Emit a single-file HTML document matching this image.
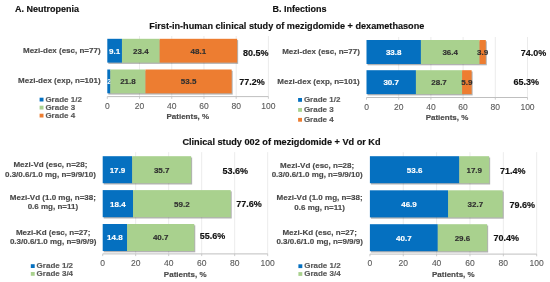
<!DOCTYPE html>
<html><head><meta charset="utf-8"><style>
html,body{margin:0;padding:0;background:#fff;}
body{width:550px;height:282px;overflow:hidden;}
svg{display:block;filter:blur(0.35px);font-family:"Liberation Sans", sans-serif;}
</style></head><body>
<svg width="550" height="282" viewBox="0 0 550 282">
<defs><filter id="blur" x="-5%" y="-30%" width="110%" height="160%"><feGaussianBlur stdDeviation="0.6"/></filter></defs>
<rect width="550" height="282" fill="#fff"/>
<text x="15.00" y="12.00" font-size="9" font-weight="bold" fill="#111" text-anchor="start" stroke="#111" stroke-width="0.15" >A. Neutropenia</text>
<text x="272.50" y="11.80" font-size="9" font-weight="bold" fill="#111" text-anchor="start" stroke="#111" stroke-width="0.15" >B. Infections</text>
<text x="149.20" y="28.70" font-size="9.12" font-weight="bold" fill="#111" text-anchor="start" stroke="#111" stroke-width="0.15" >First-in-human clinical study of mezigdomide + dexamethasone</text>
<text x="182.40" y="145.00" font-size="9.16" font-weight="bold" fill="#111" text-anchor="start" stroke="#111" stroke-width="0.15" >Clinical study 002 of mezigdomide + Vd or Kd</text>
<line x1="139.52" y1="36.00" x2="139.52" y2="96.60" stroke="#E6E6E6" stroke-width="0.8"/>
<line x1="171.74" y1="36.00" x2="171.74" y2="96.60" stroke="#E6E6E6" stroke-width="0.8"/>
<line x1="203.96" y1="36.00" x2="203.96" y2="96.60" stroke="#E6E6E6" stroke-width="0.8"/>
<line x1="236.18" y1="36.00" x2="236.18" y2="96.60" stroke="#E6E6E6" stroke-width="0.8"/>
<line x1="268.40" y1="36.00" x2="268.40" y2="96.60" stroke="#E6E6E6" stroke-width="0.8"/>
<rect x="108.30" y="40.10" width="129.85" height="23.80" fill="rgba(0,0,0,0.3)" filter="url(#blur)"/>
<rect x="107.30" y="38.80" width="14.66" height="23.80" fill="#0570C0" />
<rect x="121.96" y="38.80" width="37.70" height="23.80" fill="#A9D18E" />
<rect x="159.66" y="38.80" width="77.49" height="23.80" fill="#ED7D31" />
<text x="114.63" y="53.60" font-size="8" font-weight="bold" fill="#fff" text-anchor="middle" stroke="#fff" stroke-width="0.15" >9.1</text>
<text x="140.81" y="53.60" font-size="8" font-weight="bold" fill="#303030" text-anchor="middle" stroke="#303030" stroke-width="0.15" >23.4</text>
<text x="198.40" y="53.60" font-size="8" font-weight="bold" fill="#303030" text-anchor="middle" stroke="#303030" stroke-width="0.15" >48.1</text>
<rect x="108.30" y="70.80" width="124.37" height="23.80" fill="rgba(0,0,0,0.3)" filter="url(#blur)"/>
<rect x="107.30" y="69.50" width="3.06" height="23.80" fill="#0570C0" />
<rect x="110.36" y="69.50" width="35.12" height="23.80" fill="#A9D18E" />
<rect x="145.48" y="69.50" width="86.19" height="23.80" fill="#ED7D31" />
<text x="127.92" y="84.30" font-size="8" font-weight="bold" fill="#303030" text-anchor="middle" stroke="#303030" stroke-width="0.15" >21.8</text>
<text x="188.57" y="84.30" font-size="8" font-weight="bold" fill="#303030" text-anchor="middle" stroke="#303030" stroke-width="0.15" >53.5</text>
<line x1="107.30" y1="96.60" x2="268.40" y2="96.60" stroke="#BFBFBF" stroke-width="1"/>
<line x1="107.30" y1="96.60" x2="107.30" y2="98.80" stroke="#BFBFBF" stroke-width="0.8"/>
<text x="107.30" y="108.50" font-size="8.5" font-weight="normal" fill="#595959" text-anchor="middle" stroke="#595959" stroke-width="0.1" >0</text>
<line x1="139.52" y1="96.60" x2="139.52" y2="98.80" stroke="#BFBFBF" stroke-width="0.8"/>
<text x="139.52" y="108.50" font-size="8.5" font-weight="normal" fill="#595959" text-anchor="middle" stroke="#595959" stroke-width="0.1" >20</text>
<line x1="171.74" y1="96.60" x2="171.74" y2="98.80" stroke="#BFBFBF" stroke-width="0.8"/>
<text x="171.74" y="108.50" font-size="8.5" font-weight="normal" fill="#595959" text-anchor="middle" stroke="#595959" stroke-width="0.1" >40</text>
<line x1="203.96" y1="96.60" x2="203.96" y2="98.80" stroke="#BFBFBF" stroke-width="0.8"/>
<text x="203.96" y="108.50" font-size="8.5" font-weight="normal" fill="#595959" text-anchor="middle" stroke="#595959" stroke-width="0.1" >60</text>
<line x1="236.18" y1="96.60" x2="236.18" y2="98.80" stroke="#BFBFBF" stroke-width="0.8"/>
<text x="236.18" y="108.50" font-size="8.5" font-weight="normal" fill="#595959" text-anchor="middle" stroke="#595959" stroke-width="0.1" >80</text>
<line x1="268.40" y1="96.60" x2="268.40" y2="98.80" stroke="#BFBFBF" stroke-width="0.8"/>
<text x="268.40" y="108.50" font-size="8.5" font-weight="normal" fill="#595959" text-anchor="middle" stroke="#595959" stroke-width="0.1" >100</text>
<text x="187.85" y="118.90" font-size="8" font-weight="bold" fill="#4A4A4A" text-anchor="middle" stroke="#4A4A4A" stroke-width="0.15" >Patients, %</text>
<text x="243.00" y="56.00" font-size="9" font-weight="bold" fill="#111" text-anchor="start" stroke="#111" stroke-width="0.15" >80.5%</text>
<text x="239.20" y="84.80" font-size="9" font-weight="bold" fill="#111" text-anchor="start" stroke="#111" stroke-width="0.15" >77.2%</text>
<text x="100.60" y="53.40" font-size="8" font-weight="bold" fill="#4A4A4A" text-anchor="end" stroke="#4A4A4A" stroke-width="0.15" >Mezi-dex (esc, n=77)</text>
<text x="100.60" y="83.40" font-size="8" font-weight="bold" fill="#4A4A4A" text-anchor="end" stroke="#4A4A4A" stroke-width="0.15" >Mezi-dex (exp, n=101)</text>
<rect x="39.60" y="97.70" width="3.90" height="3.80" fill="#0570C0" />
<text x="45.40" y="101.50" font-size="8" font-weight="bold" fill="#595959" text-anchor="start" stroke="#595959" stroke-width="0.15" >Grade 1/2</text>
<rect x="39.60" y="105.70" width="3.90" height="3.80" fill="#A9D18E" />
<text x="45.40" y="109.50" font-size="8" font-weight="bold" fill="#595959" text-anchor="start" stroke="#595959" stroke-width="0.15" >Grade 3</text>
<rect x="39.60" y="113.70" width="3.90" height="3.80" fill="#ED7D31" />
<text x="45.40" y="117.50" font-size="8" font-weight="bold" fill="#595959" text-anchor="start" stroke="#595959" stroke-width="0.15" >Grade 4</text>
<clipPath id="c19"><rect x="107.3" y="69.5" width="3.06" height="23.8"/></clipPath>
<text x="109.2" y="83.9" font-size="7.5" font-weight="bold" fill="#fff" text-anchor="middle" clip-path="url(#c19)">2</text>
<line x1="398.70" y1="37.00" x2="398.70" y2="97.50" stroke="#E6E6E6" stroke-width="0.8"/>
<line x1="430.90" y1="37.00" x2="430.90" y2="97.50" stroke="#E6E6E6" stroke-width="0.8"/>
<line x1="463.10" y1="37.00" x2="463.10" y2="97.50" stroke="#E6E6E6" stroke-width="0.8"/>
<line x1="495.30" y1="37.00" x2="495.30" y2="97.50" stroke="#E6E6E6" stroke-width="0.8"/>
<line x1="527.50" y1="37.00" x2="527.50" y2="97.50" stroke="#E6E6E6" stroke-width="0.8"/>
<rect x="367.50" y="41.30" width="119.30" height="24.00" fill="rgba(0,0,0,0.3)" filter="url(#blur)"/>
<rect x="366.50" y="40.00" width="54.42" height="24.00" fill="#0570C0" />
<rect x="420.92" y="40.00" width="58.60" height="24.00" fill="#A9D18E" />
<rect x="479.52" y="40.00" width="6.28" height="24.00" fill="#ED7D31" />
<text x="393.71" y="54.90" font-size="8" font-weight="bold" fill="#fff" text-anchor="middle" stroke="#fff" stroke-width="0.15" >33.8</text>
<text x="450.22" y="54.90" font-size="8" font-weight="bold" fill="#303030" text-anchor="middle" stroke="#303030" stroke-width="0.15" >36.4</text>
<text x="482.66" y="54.90" font-size="8" font-weight="bold" fill="#303030" text-anchor="middle" stroke="#303030" stroke-width="0.15" >3.9</text>
<rect x="367.50" y="71.50" width="105.13" height="23.90" fill="rgba(0,0,0,0.3)" filter="url(#blur)"/>
<rect x="366.50" y="70.20" width="49.43" height="23.90" fill="#0570C0" />
<rect x="415.93" y="70.20" width="46.21" height="23.90" fill="#A9D18E" />
<rect x="462.13" y="70.20" width="9.50" height="23.90" fill="#ED7D31" />
<text x="391.21" y="85.05" font-size="8" font-weight="bold" fill="#fff" text-anchor="middle" stroke="#fff" stroke-width="0.15" >30.7</text>
<text x="439.03" y="85.05" font-size="8" font-weight="bold" fill="#303030" text-anchor="middle" stroke="#303030" stroke-width="0.15" >28.7</text>
<text x="466.88" y="85.05" font-size="8" font-weight="bold" fill="#303030" text-anchor="middle" stroke="#303030" stroke-width="0.15" >5.9</text>
<line x1="366.50" y1="97.50" x2="527.50" y2="97.50" stroke="#BFBFBF" stroke-width="1"/>
<line x1="366.50" y1="97.50" x2="366.50" y2="99.70" stroke="#BFBFBF" stroke-width="0.8"/>
<text x="366.50" y="109.70" font-size="8.5" font-weight="normal" fill="#595959" text-anchor="middle" stroke="#595959" stroke-width="0.1" >0</text>
<line x1="398.70" y1="97.50" x2="398.70" y2="99.70" stroke="#BFBFBF" stroke-width="0.8"/>
<text x="398.70" y="109.70" font-size="8.5" font-weight="normal" fill="#595959" text-anchor="middle" stroke="#595959" stroke-width="0.1" >20</text>
<line x1="430.90" y1="97.50" x2="430.90" y2="99.70" stroke="#BFBFBF" stroke-width="0.8"/>
<text x="430.90" y="109.70" font-size="8.5" font-weight="normal" fill="#595959" text-anchor="middle" stroke="#595959" stroke-width="0.1" >40</text>
<line x1="463.10" y1="97.50" x2="463.10" y2="99.70" stroke="#BFBFBF" stroke-width="0.8"/>
<text x="463.10" y="109.70" font-size="8.5" font-weight="normal" fill="#595959" text-anchor="middle" stroke="#595959" stroke-width="0.1" >60</text>
<line x1="495.30" y1="97.50" x2="495.30" y2="99.70" stroke="#BFBFBF" stroke-width="0.8"/>
<text x="495.30" y="109.70" font-size="8.5" font-weight="normal" fill="#595959" text-anchor="middle" stroke="#595959" stroke-width="0.1" >80</text>
<line x1="527.50" y1="97.50" x2="527.50" y2="99.70" stroke="#BFBFBF" stroke-width="0.8"/>
<text x="527.50" y="109.70" font-size="8.5" font-weight="normal" fill="#595959" text-anchor="middle" stroke="#595959" stroke-width="0.1" >100</text>
<text x="447.00" y="120.20" font-size="8" font-weight="bold" fill="#4A4A4A" text-anchor="middle" stroke="#4A4A4A" stroke-width="0.15" >Patients, %</text>
<text x="520.80" y="56.00" font-size="9" font-weight="bold" fill="#111" text-anchor="start" stroke="#111" stroke-width="0.15" >74.0%</text>
<text x="513.50" y="85.20" font-size="9" font-weight="bold" fill="#111" text-anchor="start" stroke="#111" stroke-width="0.15" >65.3%</text>
<text x="359.80" y="53.70" font-size="8" font-weight="bold" fill="#4A4A4A" text-anchor="end" stroke="#4A4A4A" stroke-width="0.15" >Mezi-dex (esc, n=77)</text>
<text x="359.80" y="83.70" font-size="8" font-weight="bold" fill="#4A4A4A" text-anchor="end" stroke="#4A4A4A" stroke-width="0.15" >Mezi-dex (exp, n=101)</text>
<rect x="298.10" y="98.00" width="3.90" height="3.80" fill="#0570C0" />
<text x="303.90" y="101.80" font-size="8" font-weight="bold" fill="#595959" text-anchor="start" stroke="#595959" stroke-width="0.15" >Grade 1/2</text>
<rect x="298.10" y="108.00" width="3.90" height="3.80" fill="#A9D18E" />
<text x="303.90" y="111.80" font-size="8" font-weight="bold" fill="#595959" text-anchor="start" stroke="#595959" stroke-width="0.15" >Grade 3</text>
<rect x="298.10" y="117.90" width="3.90" height="3.80" fill="#ED7D31" />
<text x="303.90" y="121.70" font-size="8" font-weight="bold" fill="#595959" text-anchor="start" stroke="#595959" stroke-width="0.15" >Grade 4</text>
<line x1="135.70" y1="152.20" x2="135.70" y2="253.90" stroke="#E6E6E6" stroke-width="0.8"/>
<line x1="168.70" y1="152.20" x2="168.70" y2="253.90" stroke="#E6E6E6" stroke-width="0.8"/>
<line x1="201.70" y1="152.20" x2="201.70" y2="253.90" stroke="#E6E6E6" stroke-width="0.8"/>
<line x1="234.70" y1="152.20" x2="234.70" y2="253.90" stroke="#E6E6E6" stroke-width="0.8"/>
<line x1="267.70" y1="152.20" x2="267.70" y2="253.90" stroke="#E6E6E6" stroke-width="0.8"/>
<rect x="103.70" y="157.50" width="88.44" height="27.00" fill="rgba(0,0,0,0.3)" filter="url(#blur)"/>
<rect x="102.70" y="156.20" width="29.53" height="27.00" fill="#0570C0" />
<rect x="132.24" y="156.20" width="58.91" height="27.00" fill="#A9D18E" />
<text x="117.47" y="172.60" font-size="8" font-weight="bold" fill="#fff" text-anchor="middle" stroke="#fff" stroke-width="0.15" >17.9</text>
<text x="161.69" y="172.60" font-size="8" font-weight="bold" fill="#303030" text-anchor="middle" stroke="#303030" stroke-width="0.15" >35.7</text>
<rect x="103.70" y="191.40" width="128.04" height="27.10" fill="rgba(0,0,0,0.3)" filter="url(#blur)"/>
<rect x="102.70" y="190.10" width="30.36" height="27.10" fill="#0570C0" />
<rect x="133.06" y="190.10" width="97.68" height="27.10" fill="#A9D18E" />
<text x="117.88" y="206.55" font-size="8" font-weight="bold" fill="#fff" text-anchor="middle" stroke="#fff" stroke-width="0.15" >18.4</text>
<text x="181.90" y="206.55" font-size="8" font-weight="bold" fill="#303030" text-anchor="middle" stroke="#303030" stroke-width="0.15" >59.2</text>
<rect x="103.70" y="225.30" width="91.57" height="27.00" fill="rgba(0,0,0,0.3)" filter="url(#blur)"/>
<rect x="102.70" y="224.00" width="24.42" height="27.00" fill="#0570C0" />
<rect x="127.12" y="224.00" width="67.16" height="27.00" fill="#A9D18E" />
<text x="114.91" y="240.40" font-size="8" font-weight="bold" fill="#fff" text-anchor="middle" stroke="#fff" stroke-width="0.15" >14.8</text>
<text x="160.70" y="240.40" font-size="8" font-weight="bold" fill="#303030" text-anchor="middle" stroke="#303030" stroke-width="0.15" >40.7</text>
<line x1="102.70" y1="253.90" x2="267.70" y2="253.90" stroke="#BFBFBF" stroke-width="1"/>
<line x1="102.70" y1="253.90" x2="102.70" y2="256.10" stroke="#BFBFBF" stroke-width="0.8"/>
<text x="102.70" y="266.10" font-size="8.5" font-weight="normal" fill="#595959" text-anchor="middle" stroke="#595959" stroke-width="0.1" >0</text>
<line x1="135.70" y1="253.90" x2="135.70" y2="256.10" stroke="#BFBFBF" stroke-width="0.8"/>
<text x="135.70" y="266.10" font-size="8.5" font-weight="normal" fill="#595959" text-anchor="middle" stroke="#595959" stroke-width="0.1" >20</text>
<line x1="168.70" y1="253.90" x2="168.70" y2="256.10" stroke="#BFBFBF" stroke-width="0.8"/>
<text x="168.70" y="266.10" font-size="8.5" font-weight="normal" fill="#595959" text-anchor="middle" stroke="#595959" stroke-width="0.1" >40</text>
<line x1="201.70" y1="253.90" x2="201.70" y2="256.10" stroke="#BFBFBF" stroke-width="0.8"/>
<text x="201.70" y="266.10" font-size="8.5" font-weight="normal" fill="#595959" text-anchor="middle" stroke="#595959" stroke-width="0.1" >60</text>
<line x1="234.70" y1="253.90" x2="234.70" y2="256.10" stroke="#BFBFBF" stroke-width="0.8"/>
<text x="234.70" y="266.10" font-size="8.5" font-weight="normal" fill="#595959" text-anchor="middle" stroke="#595959" stroke-width="0.1" >80</text>
<line x1="267.70" y1="253.90" x2="267.70" y2="256.10" stroke="#BFBFBF" stroke-width="0.8"/>
<text x="267.70" y="266.10" font-size="8.5" font-weight="normal" fill="#595959" text-anchor="middle" stroke="#595959" stroke-width="0.1" >100</text>
<text x="185.20" y="276.80" font-size="8" font-weight="bold" fill="#4A4A4A" text-anchor="middle" stroke="#4A4A4A" stroke-width="0.15" >Patients, %</text>
<text x="222.60" y="174.00" font-size="9" font-weight="bold" fill="#111" text-anchor="start" stroke="#111" stroke-width="0.15" >53.6%</text>
<text x="236.20" y="207.40" font-size="9" font-weight="bold" fill="#111" text-anchor="start" stroke="#111" stroke-width="0.15" >77.6%</text>
<text x="199.70" y="239.10" font-size="9" font-weight="bold" fill="#111" text-anchor="start" stroke="#111" stroke-width="0.15" >55.6%</text>
<text x="50.43" y="167.40" font-size="8" font-weight="bold" fill="#4A4A4A" text-anchor="middle" stroke="#4A4A4A" stroke-width="0.15" >Mezi-Vd (esc, n=28;</text>
<text x="50.43" y="176.80" font-size="8" font-weight="bold" fill="#4A4A4A" text-anchor="middle" stroke="#4A4A4A" stroke-width="0.15" >0.3/0.6/1.0 mg, n=9/9/10)</text>
<text x="52.89" y="199.60" font-size="8" font-weight="bold" fill="#4A4A4A" text-anchor="middle" stroke="#4A4A4A" stroke-width="0.15" >Mezi-Vd (1.0 mg, n=38;</text>
<text x="52.89" y="209.40" font-size="8" font-weight="bold" fill="#4A4A4A" text-anchor="middle" stroke="#4A4A4A" stroke-width="0.15" >0.6 mg, n=11)</text>
<text x="53.16" y="234.50" font-size="8" font-weight="bold" fill="#4A4A4A" text-anchor="middle" stroke="#4A4A4A" stroke-width="0.15" >Mezi-Kd (esc, n=27;</text>
<text x="53.16" y="244.00" font-size="8" font-weight="bold" fill="#4A4A4A" text-anchor="middle" stroke="#4A4A4A" stroke-width="0.15" >0.3/0.6/1.0 mg, n=9/9/9)</text>
<rect x="30.80" y="264.20" width="3.90" height="3.80" fill="#0570C0" />
<text x="36.60" y="268.00" font-size="8" font-weight="bold" fill="#595959" text-anchor="start" stroke="#595959" stroke-width="0.15" >Grade 1/2</text>
<rect x="30.80" y="272.00" width="3.90" height="3.80" fill="#A9D18E" />
<text x="36.60" y="275.80" font-size="8" font-weight="bold" fill="#595959" text-anchor="start" stroke="#595959" stroke-width="0.15" >Grade 3/4</text>
<line x1="403.26" y1="152.20" x2="403.26" y2="254.10" stroke="#E6E6E6" stroke-width="0.8"/>
<line x1="436.62" y1="152.20" x2="436.62" y2="254.10" stroke="#E6E6E6" stroke-width="0.8"/>
<line x1="469.98" y1="152.20" x2="469.98" y2="254.10" stroke="#E6E6E6" stroke-width="0.8"/>
<line x1="503.34" y1="152.20" x2="503.34" y2="254.10" stroke="#E6E6E6" stroke-width="0.8"/>
<line x1="536.70" y1="152.20" x2="536.70" y2="254.10" stroke="#E6E6E6" stroke-width="0.8"/>
<rect x="370.90" y="157.50" width="119.26" height="27.00" fill="rgba(0,0,0,0.3)" filter="url(#blur)"/>
<rect x="369.90" y="156.20" width="89.40" height="27.00" fill="#0570C0" />
<rect x="459.30" y="156.20" width="29.86" height="27.00" fill="#A9D18E" />
<text x="414.60" y="172.60" font-size="8" font-weight="bold" fill="#fff" text-anchor="middle" stroke="#fff" stroke-width="0.15" >53.6</text>
<text x="474.23" y="172.60" font-size="8" font-weight="bold" fill="#303030" text-anchor="middle" stroke="#303030" stroke-width="0.15" >17.9</text>
<rect x="370.90" y="191.60" width="132.77" height="27.10" fill="rgba(0,0,0,0.3)" filter="url(#blur)"/>
<rect x="369.90" y="190.30" width="78.23" height="27.10" fill="#0570C0" />
<rect x="448.13" y="190.30" width="54.54" height="27.10" fill="#A9D18E" />
<text x="409.01" y="206.75" font-size="8" font-weight="bold" fill="#fff" text-anchor="middle" stroke="#fff" stroke-width="0.15" >46.9</text>
<text x="475.40" y="206.75" font-size="8" font-weight="bold" fill="#303030" text-anchor="middle" stroke="#303030" stroke-width="0.15" >32.7</text>
<rect x="370.90" y="225.50" width="117.26" height="27.00" fill="rgba(0,0,0,0.3)" filter="url(#blur)"/>
<rect x="369.90" y="224.20" width="67.89" height="27.00" fill="#0570C0" />
<rect x="437.79" y="224.20" width="49.37" height="27.00" fill="#A9D18E" />
<text x="403.84" y="240.60" font-size="8" font-weight="bold" fill="#fff" text-anchor="middle" stroke="#fff" stroke-width="0.15" >40.7</text>
<text x="462.47" y="240.60" font-size="8" font-weight="bold" fill="#303030" text-anchor="middle" stroke="#303030" stroke-width="0.15" >29.6</text>
<line x1="369.90" y1="254.10" x2="536.70" y2="254.10" stroke="#BFBFBF" stroke-width="1"/>
<line x1="369.90" y1="254.10" x2="369.90" y2="256.30" stroke="#BFBFBF" stroke-width="0.8"/>
<text x="369.90" y="266.20" font-size="8.5" font-weight="normal" fill="#595959" text-anchor="middle" stroke="#595959" stroke-width="0.1" >0</text>
<line x1="403.26" y1="254.10" x2="403.26" y2="256.30" stroke="#BFBFBF" stroke-width="0.8"/>
<text x="403.26" y="266.20" font-size="8.5" font-weight="normal" fill="#595959" text-anchor="middle" stroke="#595959" stroke-width="0.1" >20</text>
<line x1="436.62" y1="254.10" x2="436.62" y2="256.30" stroke="#BFBFBF" stroke-width="0.8"/>
<text x="436.62" y="266.20" font-size="8.5" font-weight="normal" fill="#595959" text-anchor="middle" stroke="#595959" stroke-width="0.1" >40</text>
<line x1="469.98" y1="254.10" x2="469.98" y2="256.30" stroke="#BFBFBF" stroke-width="0.8"/>
<text x="469.98" y="266.20" font-size="8.5" font-weight="normal" fill="#595959" text-anchor="middle" stroke="#595959" stroke-width="0.1" >60</text>
<line x1="503.34" y1="254.10" x2="503.34" y2="256.30" stroke="#BFBFBF" stroke-width="0.8"/>
<text x="503.34" y="266.20" font-size="8.5" font-weight="normal" fill="#595959" text-anchor="middle" stroke="#595959" stroke-width="0.1" >80</text>
<line x1="536.70" y1="254.10" x2="536.70" y2="256.30" stroke="#BFBFBF" stroke-width="0.8"/>
<text x="536.70" y="266.20" font-size="8.5" font-weight="normal" fill="#595959" text-anchor="middle" stroke="#595959" stroke-width="0.1" >100</text>
<text x="453.30" y="276.90" font-size="8" font-weight="bold" fill="#4A4A4A" text-anchor="middle" stroke="#4A4A4A" stroke-width="0.15" >Patients, %</text>
<text x="500.00" y="173.60" font-size="9" font-weight="bold" fill="#111" text-anchor="start" stroke="#111" stroke-width="0.15" >71.4%</text>
<text x="509.60" y="207.70" font-size="9" font-weight="bold" fill="#111" text-anchor="start" stroke="#111" stroke-width="0.15" >79.6%</text>
<text x="493.40" y="240.80" font-size="9" font-weight="bold" fill="#111" text-anchor="start" stroke="#111" stroke-width="0.15" >70.4%</text>
<text x="317.13" y="167.90" font-size="8" font-weight="bold" fill="#4A4A4A" text-anchor="middle" stroke="#4A4A4A" stroke-width="0.15" >Mezi-Vd (esc, n=28;</text>
<text x="317.13" y="176.80" font-size="8" font-weight="bold" fill="#4A4A4A" text-anchor="middle" stroke="#4A4A4A" stroke-width="0.15" >0.3/0.6/1.0 mg, n=9/9/10)</text>
<text x="319.59" y="199.60" font-size="8" font-weight="bold" fill="#4A4A4A" text-anchor="middle" stroke="#4A4A4A" stroke-width="0.15" >Mezi-Vd (1.0 mg, n=38;</text>
<text x="319.59" y="209.60" font-size="8" font-weight="bold" fill="#4A4A4A" text-anchor="middle" stroke="#4A4A4A" stroke-width="0.15" >0.6 mg, n=11)</text>
<text x="319.66" y="234.50" font-size="8" font-weight="bold" fill="#4A4A4A" text-anchor="middle" stroke="#4A4A4A" stroke-width="0.15" >Mezi-Kd (esc, n=27;</text>
<text x="319.66" y="244.00" font-size="8" font-weight="bold" fill="#4A4A4A" text-anchor="middle" stroke="#4A4A4A" stroke-width="0.15" >0.3/0.6/1.0 mg, n=9/9/9)</text>
<rect x="298.40" y="264.30" width="3.90" height="3.80" fill="#0570C0" />
<text x="304.20" y="268.10" font-size="8" font-weight="bold" fill="#595959" text-anchor="start" stroke="#595959" stroke-width="0.15" >Grade 1/2</text>
<rect x="298.40" y="272.10" width="3.90" height="3.80" fill="#A9D18E" />
<text x="304.20" y="275.90" font-size="8" font-weight="bold" fill="#595959" text-anchor="start" stroke="#595959" stroke-width="0.15" >Grade 3/4</text>
</svg>
</body></html>
